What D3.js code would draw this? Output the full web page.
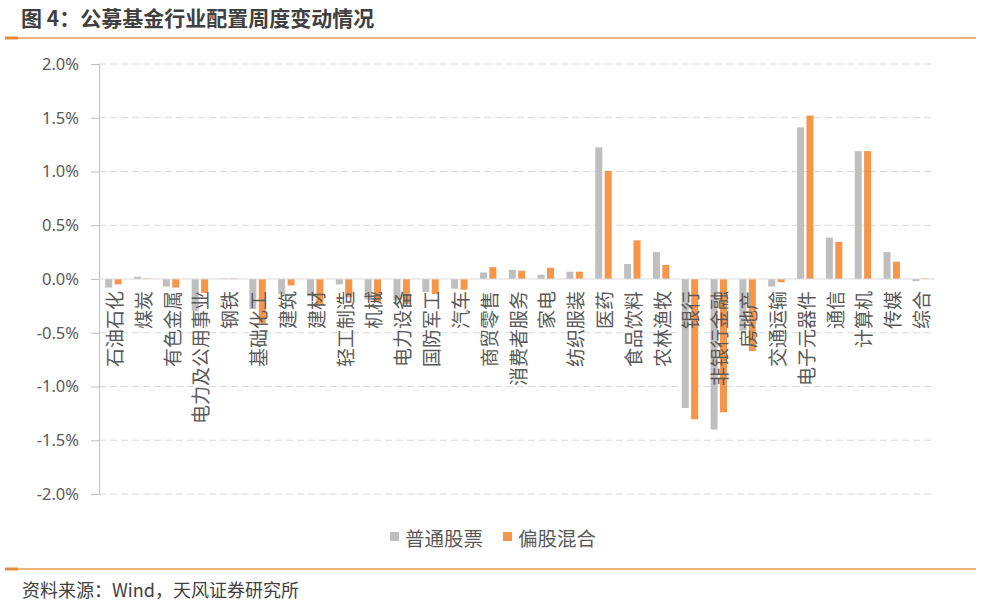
<!DOCTYPE html>
<html>
<head>
<meta charset="utf-8">
<script src="https://cdn.jsdelivr.net/npm/d3@7"></script>
<style>
  body { margin: 0; background: #fff; }
  svg { display: block; font-family: "Noto Sans CJK SC", "Noto Sans", sans-serif; }
</style>
</head>
<body>
<svg width="981" height="603"></svg>
<script>
// data (% change)
const categories = ["石油石化", "煤炭", "有色金属", "电力及公用事业", "钢铁", "基础化工", "建筑", "建材",
  "轻工制造", "机械", "电力设备", "国防军工", "汽车", "商贸零售", "消费者服务", "家电", "纺织服装",
  "医药", "食品饮料", "农林渔牧", "银行", "非银行金融", "房地产", "交通运输", "电子元器件", "通信",
  "计算机", "传媒", "综合"];
const seriesNames = ["普通股票", "偏股混合"];
const stockValues = [-0.08, 0.02, -0.07, -0.30, 0.005, -0.28, -0.14, -0.16,
  -0.05, -0.19, -0.2, -0.12, -0.09, 0.06, 0.085, 0.04, 0.068,
  1.225, 0.14, 0.25, -1.20, -1.40, -0.48, -0.07, 1.41, 0.385,
  1.19, 0.25, -0.02];
const mixedValues = [-0.05, 0.005, -0.08, -0.13, 0.005, -0.41, -0.06, -0.24,
  -0.17, -0.21, -0.23, -0.14, -0.10, 0.11, 0.077, 0.105, 0.068,
  1.005, 0.36, 0.13, -1.305, -1.24, -0.67, -0.03, 1.52, 0.345,
  1.19, 0.16, 0.005];
const yTicks = [-2, -1.5, -1, -0.5, 0, 0.5, 1, 1.5, 2];

const colors = ["#bfbfbf", "#f5964a"];
const textColor = "#595959";

const svg = d3.select("svg");

// title + rules
svg.append("text")
  .attr("x", 21).attr("y", 26)
  .style("font-size", "21px").style("font-weight", "bold")
  .style("fill", "#404040")
  .text("图 4：公募基金行业配置周度变动情况");

function rule(y) {
  svg.append("line").attr("x1", 5).attr("x2", 976).attr("y1", y).attr("y2", y)
    .style("stroke", "#eb9a55").style("stroke-width", 1.5);
  svg.append("line").attr("x1", 5).attr("x2", 18).attr("y1", y).attr("y2", y)
    .style("stroke", "#e8893a").style("stroke-width", 3);
}
rule(38);
rule(569);

svg.append("text")
  .attr("x", 22).attr("y", 597)
  .style("font-size", "18px").style("fill", "#404040")
  .text("资料来源：Wind，天风证券研究所");

// scales
let x = d3.scaleBand().domain(categories).range([99, 935]).padding(0);
let y = d3.scaleLinear().domain([-2, 2]).range([494, 64]);

// gridlines
svg.append("g")
  .selectAll("line")
  .data(yTicks.filter(d => d !== 0))
  .enter()
  .append("line")
  .attr("x1", 99).attr("x2", 935)
  .attr("y1", d => y(d)).attr("y2", d => y(d))
  .style("stroke", "#d9d9d9")
  .style("stroke-dasharray", "7,4");

// y axis
let yAxis = d3.axisLeft(y).tickValues(yTicks)
  .tickFormat(d => d.toFixed(1) + "%").tickSize(8).tickSizeOuter(0);
const ya = svg.append("g")
  .attr("transform", "translate(99,0)")
  .call(yAxis);
ya.select(".domain").style("stroke", "#bfbfbf");
ya.selectAll(".tick line").style("stroke", "#bfbfbf");
ya.selectAll(".tick text")
  .attr("x", -20)
  .style("font-size", "16.5px")
  .style("font-family", "'Noto Sans', sans-serif")
  .style("fill", textColor);

// bars
const barW = 7;
const gap = 2.4;
const series = [stockValues, mixedValues];
series.forEach((vals, si) => {
  svg.append("g")
    .selectAll("rect")
    .data(vals)
    .enter()
    .append("rect")
    .attr("x", (d, i) => {
      const c = x(categories[i]) + x.bandwidth() / 2;
      return si === 0 ? c - gap / 2 - barW : c + gap / 2;
    })
    .attr("width", barW)
    .attr("y", d => y(Math.max(0, d)))
    .attr("height", d => Math.abs(y(d) - y(0)))
    .style("fill", colors[si]);
});

// zero line
svg.append("line")
  .attr("x1", 99).attr("x2", 935)
  .attr("y1", y(0)).attr("y2", y(0))
  .style("stroke", "#d9d9d9");

// category labels (rotated)
svg.append("g")
  .selectAll("text")
  .data(categories)
  .enter()
  .append("text")
  .attr("transform", d => "translate(" + (x(d) + x.bandwidth() / 2) + "," + 291 + ") rotate(-90)")
  .attr("text-anchor", "end")
  .attr("dominant-baseline", "central")
  .style("font-size", "19px")
  .style("fill", textColor)
  .text(d => d);

// legend
const legend = svg.append("g");
const legendX = [390, 503];
seriesNames.forEach((name, i) => {
  legend.append("rect")
    .attr("x", legendX[i]).attr("y", 532)
    .attr("width", 9).attr("height", 9)
    .style("fill", colors[i]);
  legend.append("text")
    .attr("x", legendX[i] + 15).attr("y", 537)
    .attr("dominant-baseline", "central")
    .style("font-size", "19.5px")
    .style("fill", textColor)
    .text(name);
});
</script>
</body>
</html>
